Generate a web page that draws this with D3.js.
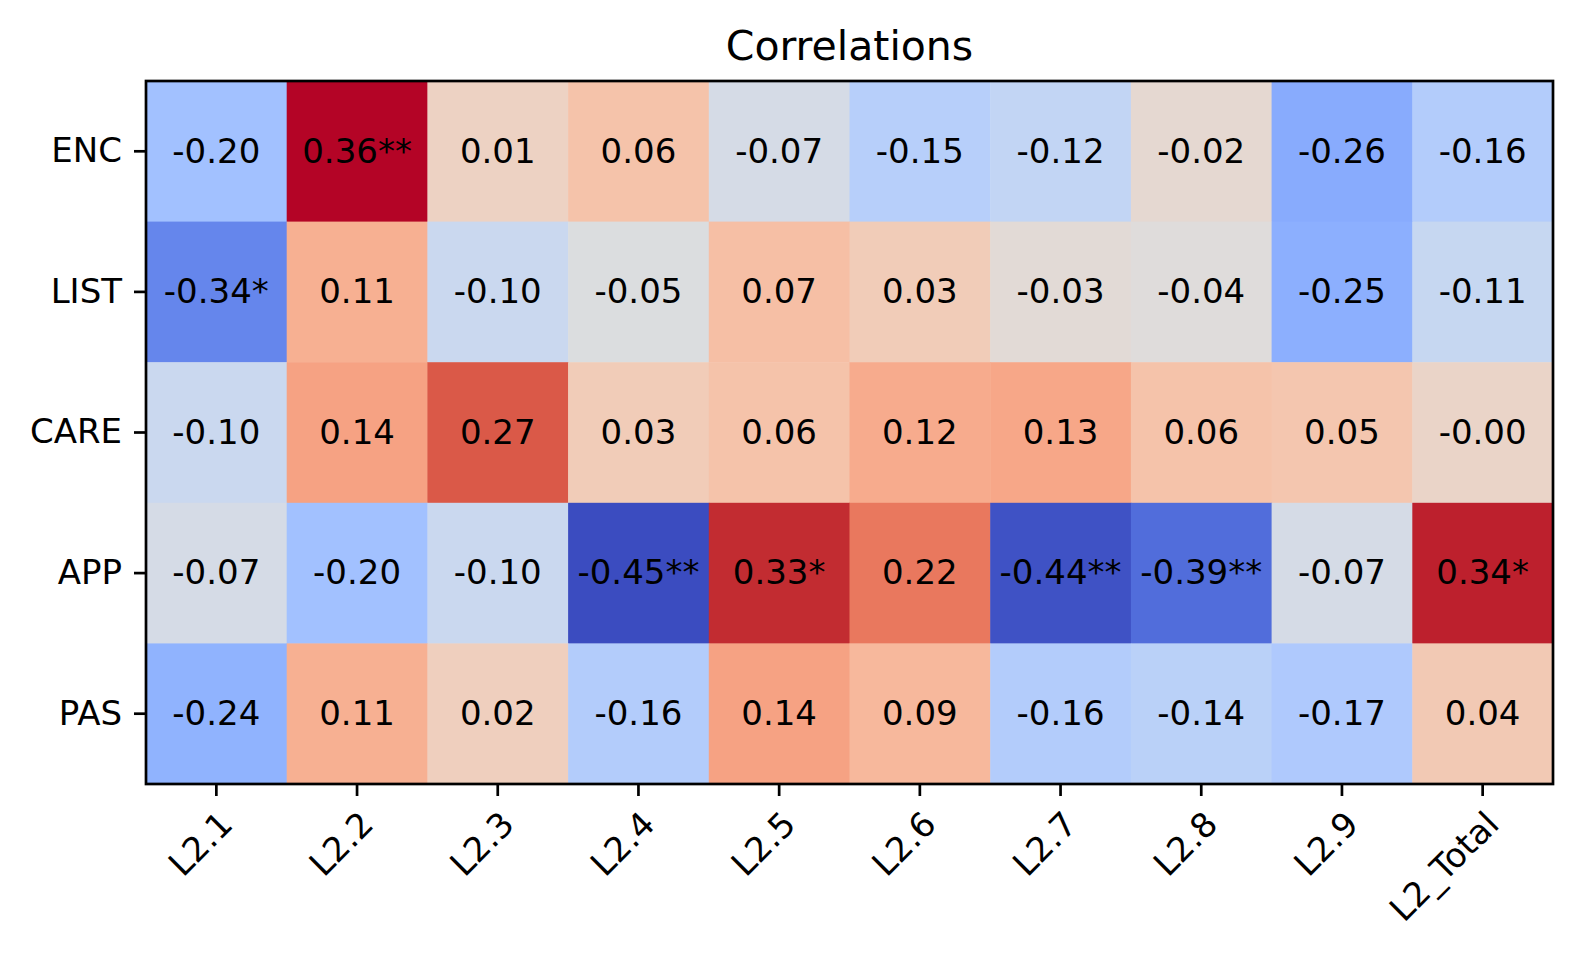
<!DOCTYPE html>
<html>
<head>
<meta charset="utf-8">
<script src="https://cdn.jsdelivr.net/npm/d3@7"></script>
<style>
  html, body { margin: 0; padding: 0; background: #fff; overflow: hidden; }
  svg { display: block; }
  svg text { font-family: "DejaVu Sans", sans-serif; fill: #000; }
</style>
</head>
<body>
<svg id="chart" width="1581" height="961"></svg>
<script>
// ---- data ----
const rows = ["ENC", "LIST", "CARE", "APP", "PAS"];
const cols = ["L2.1", "L2.2", "L2.3", "L2.4", "L2.5", "L2.6", "L2.7", "L2.8", "L2.9", "L2_Total"];
const encValues  = [-0.20, 0.36, 0.01, 0.06, -0.07, -0.15, -0.12, -0.02, -0.26, -0.16];
const listValues = [-0.34, 0.11, -0.10, -0.05, 0.07, 0.03, -0.03, -0.04, -0.25, -0.11];
const careValues = [-0.10, 0.14, 0.27, 0.03, 0.06, 0.12, 0.13, 0.06, 0.05, -0.001];
const appValues  = [-0.07, -0.20, -0.10, -0.45, 0.33, 0.22, -0.44, -0.39, -0.07, 0.34];
const pasValues  = [-0.24, 0.11, 0.02, -0.16, 0.14, 0.09, -0.16, -0.14, -0.17, 0.04];
const encStars  = ["", "**", "", "", "", "", "", "", "", ""];
const listStars = ["*", "", "", "", "", "", "", "", "", ""];
const careStars = ["", "", "", "", "", "", "", "", "", ""];
const appStars  = ["", "", "", "**", "*", "", "**", "**", "", "*"];
const pasStars  = ["", "", "", "", "", "", "", "", "", ""];
const values = [encValues, listValues, careValues, appValues, pasValues];
const stars = [encStars, listStars, careStars, appStars, pasStars];
const title = "Correlations";

// coolwarm colormap control points
const coolwarm = [
 [59,76,192],[68,90,204],[77,104,215],[87,117,225],[98,130,234],[108,142,241],[119,154,247],[130,165,251],
 [141,176,254],[152,185,255],[163,194,255],[174,201,253],[184,208,249],[194,213,244],[204,217,238],[213,219,230],
 [221,221,221],[229,216,209],[236,211,197],[241,204,184],[245,196,172],[247,187,160],[247,177,148],[247,166,135],
 [244,154,123],[241,141,111],[236,127,99],[229,112,88],[222,96,77],[213,80,66],[203,62,56],[192,40,47],[180,4,38]
];

const all = values.flat();
const vmin = d3.min(all), vmax = d3.max(all);
const norm = d3.scaleLinear().domain([vmin, vmax]).range([0, 1]).clamp(true);
const cmap = d3.scaleLinear()
  .domain(coolwarm.map((_, i) => i / (coolwarm.length - 1)))
  .range(coolwarm.map(c => d3.rgb(c[0], c[1], c[2])))
  .interpolate(d3.interpolateRgb);

// ---- layout ----
const L = 146, R = 1553, T = 81, B = 784;
const svg = d3.select("#chart");
const x = d3.scaleBand().domain(cols).range([L, R]);
const y = d3.scaleBand().domain(rows).range([T, B]);

const cells = [];
rows.forEach((r, i) => cols.forEach((c, j) => cells.push({r, c, v: values[i][j], s: stars[i][j]})));

svg.append("g").selectAll("rect").data(cells).join("rect")
  .attr("x", d => x(d.c)).attr("y", d => y(d.r))
  .attr("width", x.bandwidth() + 0.5).attr("height", y.bandwidth() + 0.5)
  .attr("fill", d => cmap(norm(d.v)));

svg.append("g").selectAll("text").data(cells).join("text")
  .attr("x", d => x(d.c) + x.bandwidth() / 2)
  .attr("y", d => y(d.r) + y.bandwidth() / 2)
  .attr("text-anchor", "middle")
  .attr("dy", "0.33em")
  .style("font-size", "34px")
  .text(d => (Math.abs(d.v) < 0.005 && d.v < 0 ? "-0.00" : d3.format(".2f")(d.v).replace("−", "-")) + d.s);

// frame
svg.append("rect").attr("x", L).attr("y", T).attr("width", R - L).attr("height", B - T)
  .attr("fill", "none").attr("stroke", "#000").attr("stroke-width", 2.7);

// y axis
const yAxis = d3.axisLeft(y).tickSize(12).tickPadding(12);
const gy = svg.append("g").attr("transform", `translate(${L},0)`).call(yAxis);
gy.select(".domain").remove();
gy.selectAll(".tick line").attr("stroke", "#000").attr("stroke-width", 2.7);
gy.selectAll(".tick text").style("font-size", "34px").attr("fill", "#000")
  .attr("font-family", "DejaVu Sans");

// x axis
const xAxis = d3.axisBottom(x).tickSize(12).tickPadding(12);
const gx = svg.append("g").attr("transform", `translate(0,${B})`).call(xAxis);
gx.select(".domain").remove();
gx.selectAll(".tick line").attr("stroke", "#000").attr("stroke-width", 2.7);
gx.selectAll(".tick text")
  .style("font-size", "34px").attr("fill", "#000").attr("font-family", "DejaVu Sans")
  .attr("text-anchor", "end")
  .attr("y", 0).attr("dy", "0.76em")
  .attr("transform", "translate(0,24) rotate(-45)");

// title
svg.append("text").attr("x", (L + R) / 2).attr("y", 59.5)
  .attr("text-anchor", "middle").style("font-size", "41px").text(title);
</script>
</body>
</html>
